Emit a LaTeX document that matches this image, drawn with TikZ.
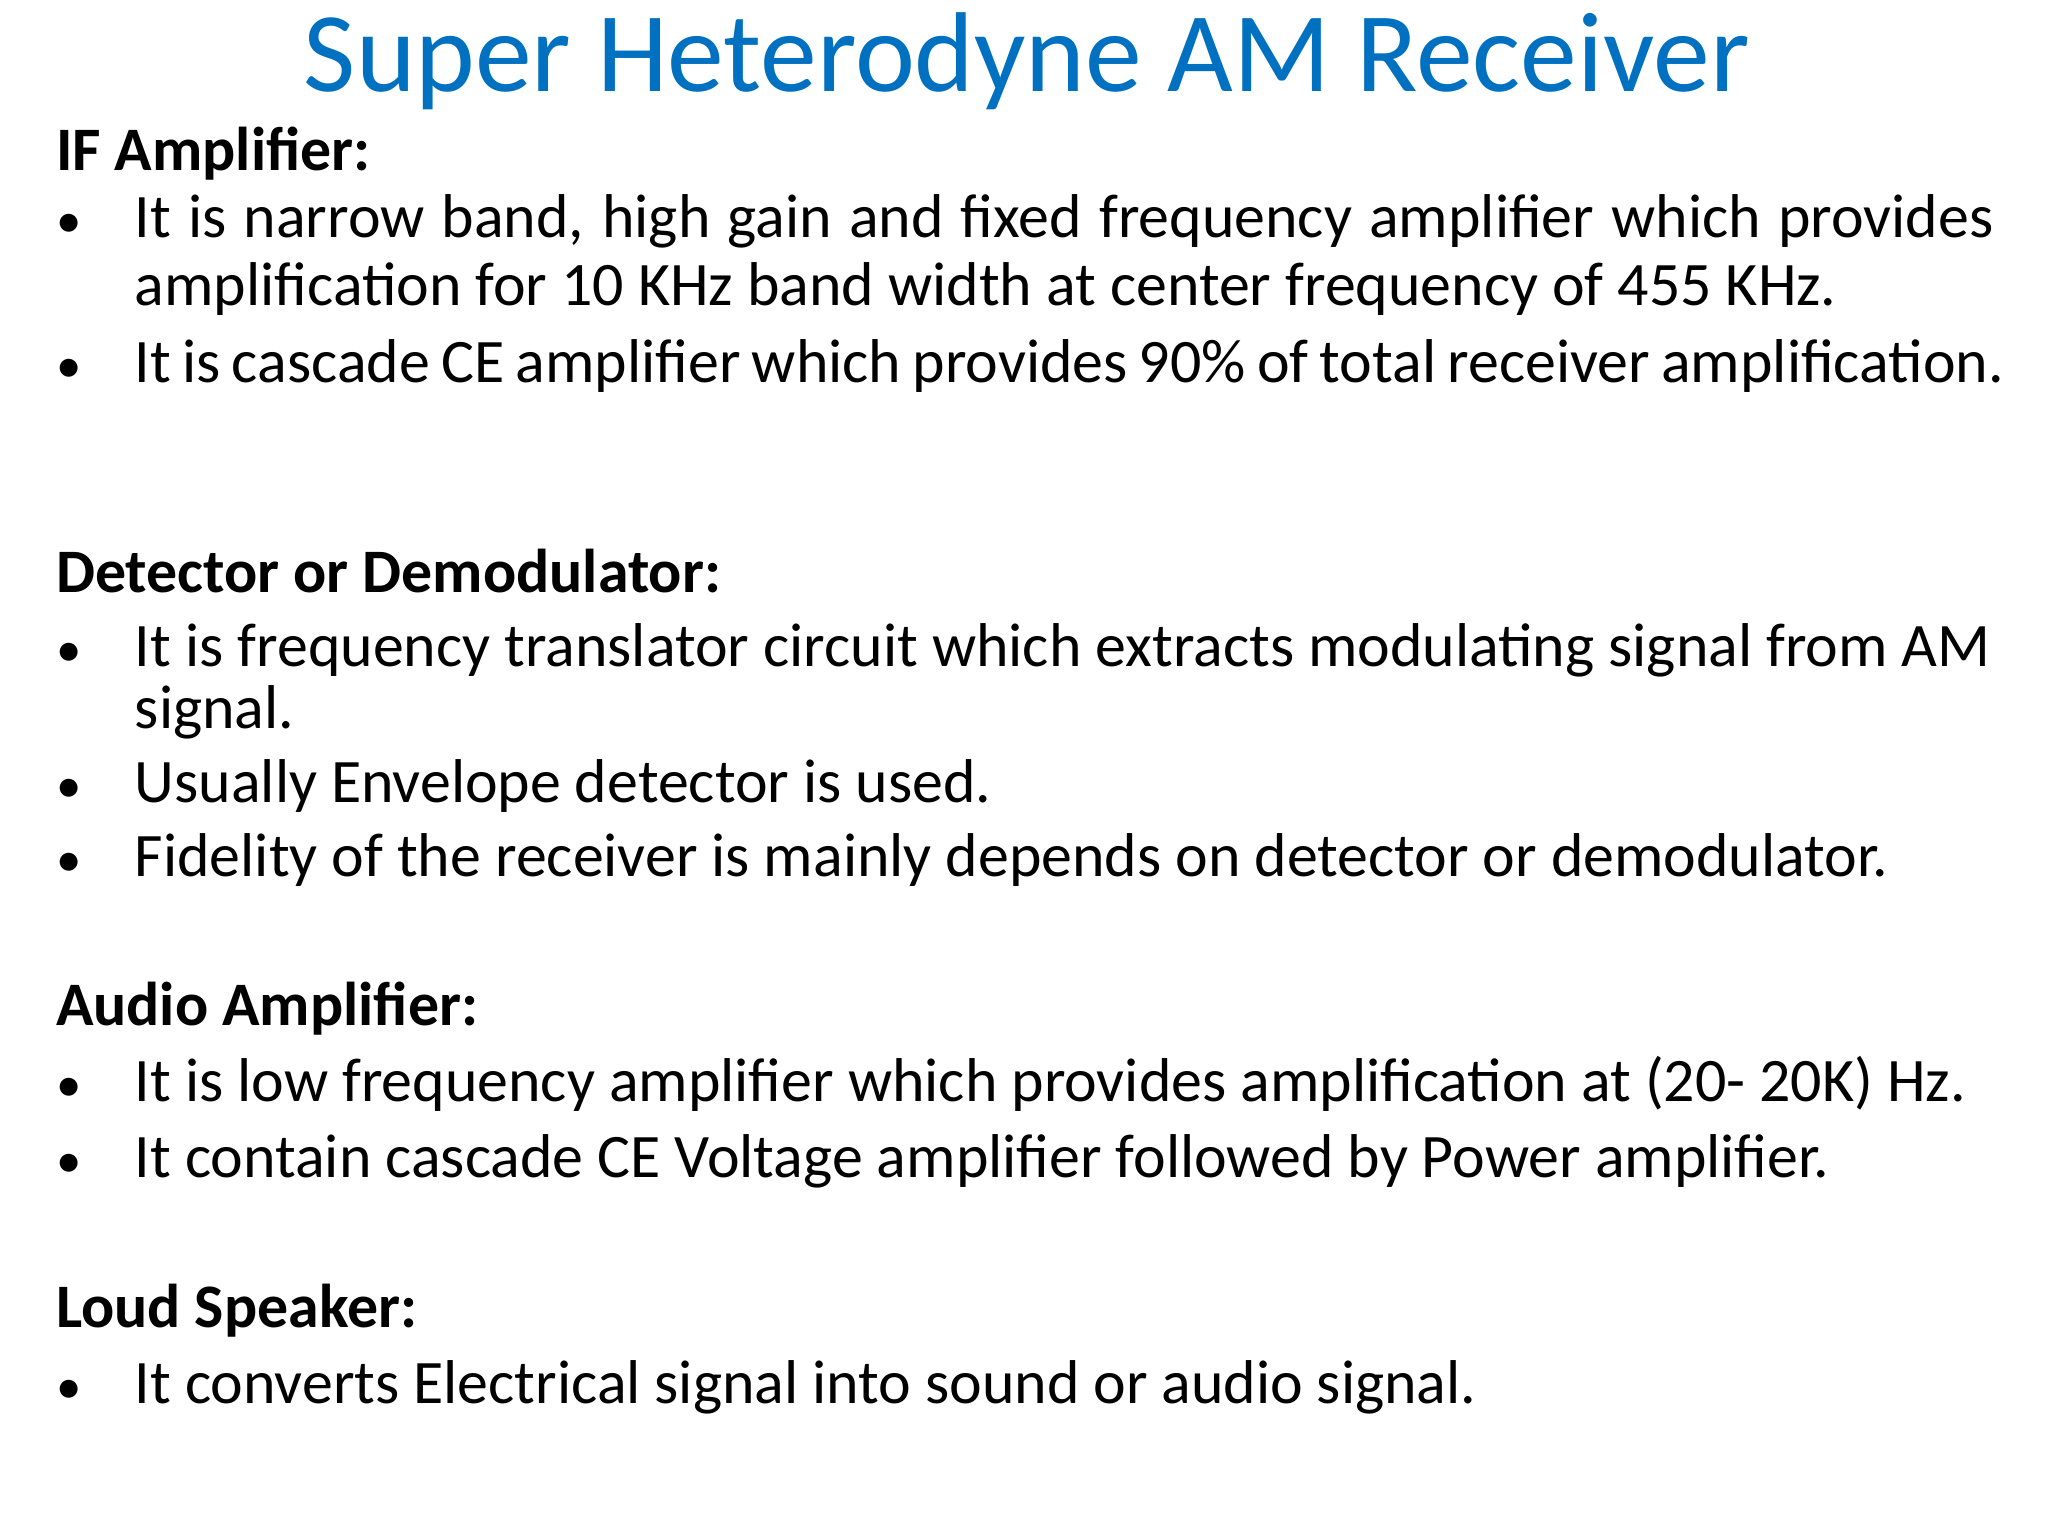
\documentclass[tikz,border=0pt]{standalone}
\usepackage{fontspec}
\setmainfont{Carlito}
\definecolor{titleblue}{HTML}{0070C0}
\begin{document}
\begin{tikzpicture}[x=0.01cm,y=-0.01cm,
  head/.style={anchor=base west,inner sep=0pt,font=\fontsize{13.4}{15}\selectfont\bfseries},
  bul/.style={anchor=base west,inner sep=0pt,font=\fontsize{13.4}{15}\selectfont},
  dot/.style={anchor=base west,inner sep=0pt,font=\fontsize{11}{15}\selectfont},
  item/.style={anchor=base west,inner sep=0pt,text width=14.23cm,align=justify,font=\fontsize{13.4}{14.8}\selectfont}]
\useasboundingbox (0,0) rectangle (1560,1170);
\node[anchor=base,inner sep=0pt,font=\fontsize{24.6}{28}\selectfont,text=titleblue] (title) at (782,70) {Super Heterodyne AM Receiver};
\node[head] (h1) at (42,130) {IF Amplifier:};
\node[dot] (b1) at (42,181) {\textbullet};
\node[item,text width=14.15cm] (t1) at (102,181) {It is narrow band, high gain and fixed frequency amplifier which provides amplification for 10 KHz band width at center frequency of 455 KHz.};
\node[dot] (b2) at (42,291) {\textbullet};
\node[item,font=\fontsize{13.4}{13.4}\selectfont] (t2) at (102,291) {It is cascade CE amplifier which provides 90\% of total receiver amplification.};
\node[head] (h2) at (42,451) {Detector or Demodulator:};
\node[dot] (b3) at (42,508) {\textbullet};
\node[item,font=\fontsize{13.4}{13.4}\selectfont,text width=14.13cm] (t3) at (102,508) {It is frequency translator circuit which extracts modulating signal from AM signal.};
\node[dot] (b4) at (42,611) {\textbullet};
\node[bul] (t4) at (102,611) {Usually Envelope detector is used.};
\node[dot] (b5) at (42,668) {\textbullet};
\node[bul] (t5) at (102,668) {Fidelity of the receiver is mainly depends on detector or demodulator.};
\node[head] (h3) at (42,781) {Audio Amplifier:};
\node[dot] (b6) at (42,839) {\textbullet};
\node[bul] (t6) at (102,839) {It is low frequency amplifier which provides amplification at (20- 20K) Hz.};
\node[dot] (b7) at (42,897) {\textbullet};
\node[bul] (t7) at (102,897) {It contain cascade CE Voltage amplifier followed by Power amplifier.};
\node[head] (h4) at (42,1011) {Loud Speaker:};
\node[dot] (b8) at (42,1069) {\textbullet};
\node[bul] (t8) at (102,1069) {It converts Electrical signal into sound or audio signal.};
\end{tikzpicture}
\end{document}
